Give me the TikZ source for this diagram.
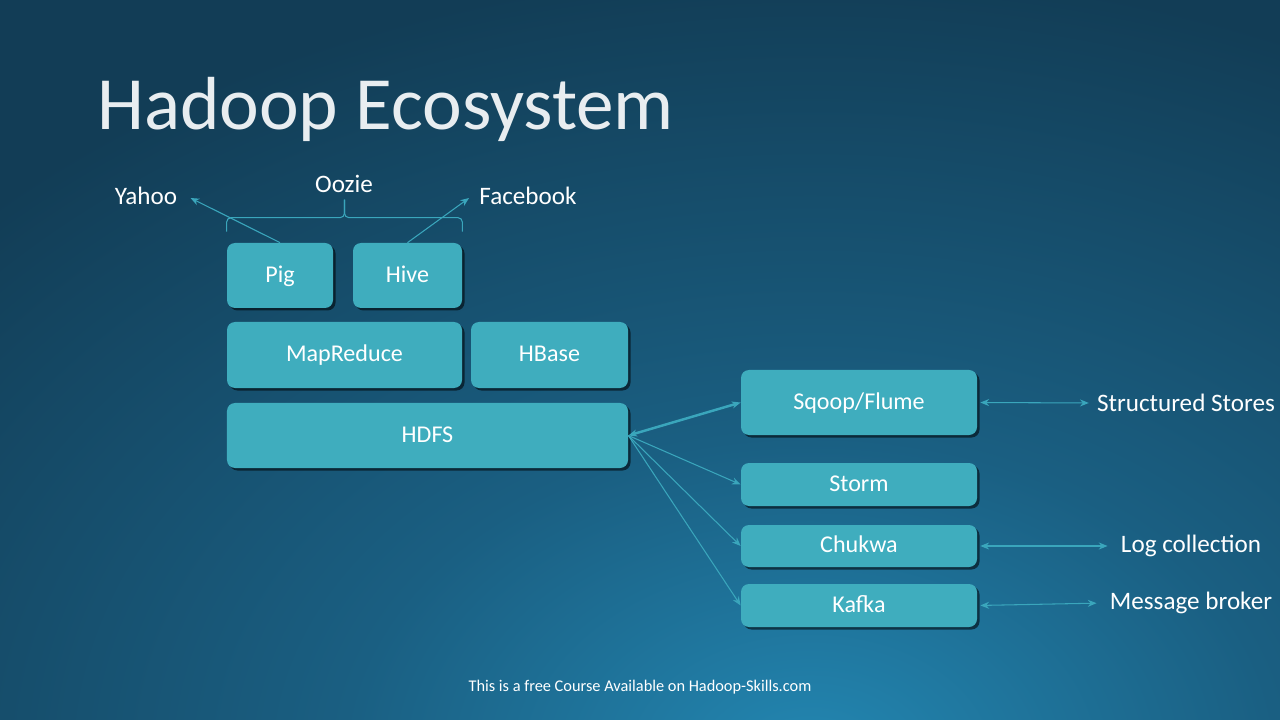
\documentclass[tikz,border=0pt]{standalone}
\usepackage{fontspec}
\setmainfont{Carlito}
\usepackage{tikz}
\usetikzlibrary{calc,arrows.meta,shadows}
\definecolor{bgdark}{HTML}{123D56}
\definecolor{bgmid}{HTML}{1A5F82}
\definecolor{bglight}{HTML}{2387B2}
\definecolor{boxfill}{HTML}{3FADBE}
\definecolor{linkcol}{HTML}{3AA6BC}
\definecolor{titlecol}{HTML}{E8EDF0}
\pgfdeclareradialshading{glow}{\pgfpointorigin}{color(0bp)=(bglight); color(9bp)=(bgmid); color(22bp)=(bgdark); color(50bp)=(bgdark)}
\def\blocknode{\node[block]}

\begin{document}
\begin{tikzpicture}[x=0.2mm,y=-0.2mm,
  block/.style={rounded corners=1.6mm,fill=boxfill,text=white,inner sep=0pt,
    font=\fontsize{13.7}{15}\selectfont,text height=0.75em,text depth=0em,
    drop shadow={shadow xshift=0.5mm,shadow yshift=-0.5mm,opacity=0.55,fill=black}},
  lbl/.style={text=white,inner sep=1mm,font=\fontsize{14.3}{16}\selectfont},
  link/.style={draw=linkcol,line width=0.6pt,-{Stealth[length=5pt,width=4pt]}},
  both/.style={draw=linkcol,line width=0.6pt,{Stealth[length=5pt,width=4pt]}-{Stealth[length=5pt,width=4pt]}}]
\useasboundingbox (0,0) rectangle (1280,720);
% background
\fill[bgdark] (0,0) rectangle (1280,720);
\begin{scope}
\clip (0,0) rectangle (1280,720);
\shade[shading=glow] (810,760) ellipse (1300 and 900);
\end{scope}
\node[anchor=base west,text=titlecol,inner sep=0pt,font=\fontsize{42.8}{48}\selectfont] (title) at (97,130) {Hadoop Ecosystem};
% stack
\blocknode[minimum width=21.2mm,minimum height=13mm] (pig) at (280,275.5) {Pig};
\blocknode[minimum width=21.8mm,minimum height=13mm] (hive) at (407.5,275.5) {Hive};
\blocknode[minimum width=47mm,minimum height=13.2mm] (mapred) at (344.5,355) {MapReduce};
\blocknode[minimum width=31.4mm,minimum height=13.2mm] (hbase) at (549.5,355) {HBase};
\blocknode[minimum width=80.2mm,minimum height=13mm] (hdfs) at (427.5,435.5) {HDFS};
% tools
\blocknode[minimum width=47.2mm,minimum height=13mm] (sqoop) at (859,402.5) {Sqoop/Flume};
\blocknode[minimum width=47.2mm,minimum height=8.6mm] (storm) at (859,484.5) {Storm};
\blocknode[minimum width=47.2mm,minimum height=8.4mm] (chukwa) at (859,546) {Chukwa};
\blocknode[minimum width=47.2mm,minimum height=8.6mm] (kafka) at (859,605.5) {Kafka};
% labels
\node[lbl] (yahoo) at (146,196) {Yahoo};
\node[lbl] (oozie) at (344,184) {Oozie};
\node[lbl] (facebook) at (528,196) {Facebook};
\node[lbl] (stores) at (1186,403) {Structured Stores};
\node[lbl] (logs) at (1191,546) {Log collection};
\node[lbl] (broker) at (1191,603) {Message broker};
\node[text=white,inner sep=0pt,font=\fontsize{9.3}{11}\selectfont] (footer) at (640,687) {This is a free Course Available on Hadoop-Skills.com};
% brace under Oozie
\coordinate (bl) at ($(pig.north west)+(0,-11)$);
\coordinate (br) at ($(hive.north east)+(0,-11)$);
\coordinate (bm) at ($(bl)!0.5!(br)$);
\draw[linkcol,line width=0.6pt,rounded corners=2.5pt]
  (bl) -- ++(0,-14) -| ($(bm)+(0,-32)$);
\draw[linkcol,line width=0.6pt,rounded corners=2.5pt]
  (br) -- ++(0,-14) -| ($(bm)+(0,-32)$);
\draw[link] (pig.north) -- ($(yahoo.east)+(8,2)$);
\draw[link] (hive.north) -- ($(facebook.west)+(-5,2)$);
% HDFS links
\draw[both,line width=1.4pt] (hdfs.east) -- (sqoop.west);
\draw[link] (hdfs.east) -- (storm.west);
\draw[link] (hdfs.east) -- (chukwa.west);
\draw[link] (hdfs.east) -- (kafka.west);
\draw[both,shorten <=0.6mm,shorten >=0.6mm] (sqoop.east) -- (stores.west);
\draw[both,shorten <=0.6mm,shorten >=1.6mm] (chukwa.east) -- (logs.west);
\draw[both,shorten <=0.6mm,shorten >=1.6mm] (kafka.east) -- (broker.west);
\end{tikzpicture}
\end{document}
